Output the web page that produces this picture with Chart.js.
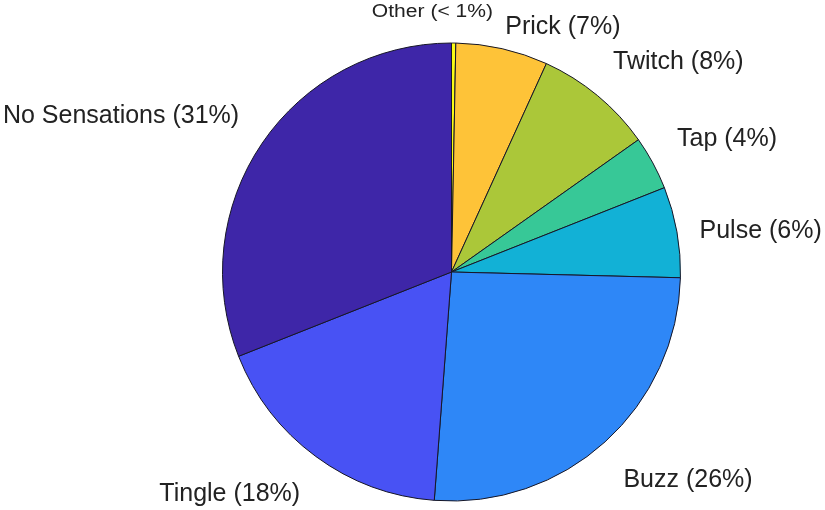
<!DOCTYPE html>
<html><head><meta charset="utf-8">
<script src="https://cdn.jsdelivr.net/npm/chart.js@4/dist/chart.umd.min.js"></script>
<style>html,body{margin:0;padding:0;background:#fff}canvas{display:block}</style>
</head><body>
<canvas id="c" width="825" height="510"></canvas>
<script>
// ---- data (clockwise from 12 o'clock) ----
const categories = ['Other', 'Prick', 'Twitch', 'Tap', 'Pulse', 'Buzz', 'Tingle', 'No Sensations'];
const percentLabels = ['(< 1%)', '(7%)', '(8%)', '(4%)', '(6%)', '(26%)', '(18%)', '(31%)'];
const shares = [0.3, 6.5, 8.4, 3.8, 6.4, 25.8, 17.8, 31.0];
const sliceColors = ['#f9fb15', '#fec338', '#abc739', '#37c897', '#12b1d6', '#2e87f7', '#4852f4', '#3e26a8'];

// ---- label layout (styling only) ----
const labelStyle = {
  radiusFactor: 1.1,
  color: '#222222',
  family: '"Liberation Sans", Arial, Helvetica, sans-serif',
  sizes: [18, 25, 25, 25, 25, 25, 25, 25],
  hscale: [1.17, 1, 1, 1, 1, 1, 1, 1],
  nudges: [[-82, 2], [-2, 14], [1, -5], [4, -6], [0, 6], [3, 11], [-2, 8], [-4, -6]]
};

const pieLabels = {
  id: 'pieLabels',
  afterDatasetsDraw(chart) {
    const ctx = chart.ctx;
    const meta = chart.getDatasetMeta(0);
    meta.data.forEach((arc, i) => {
      const p = arc.getProps(['x', 'y', 'startAngle', 'endAngle', 'outerRadius'], true);
      const mid = (p.startAngle + p.endAngle) / 2;
      const r = p.outerRadius * labelStyle.radiusFactor;
      const fs = labelStyle.sizes[i];
      const ax = p.x + r * Math.cos(mid);
      const ay = p.y + r * Math.sin(mid);
      const left = Math.cos(mid) >= 0;
      const midY = ay + fs * 0.56 * Math.sin(mid);
      const nd = labelStyle.nudges[i];
      const text = categories[i] + ' ' + percentLabels[i];
      ctx.save();
      ctx.font = fs + 'px ' + labelStyle.family;
      ctx.fillStyle = labelStyle.color;
      ctx.textBaseline = 'middle';
      ctx.textAlign = left ? 'left' : 'right';
      ctx.translate(ax + nd[0], midY + nd[1]);
      ctx.scale(labelStyle.hscale[i], 1);
      ctx.fillText(text, 0, 0);
      ctx.restore();
    });
  }
};

new Chart(document.getElementById('c'), {
  type: 'pie',
  data: {
    labels: categories,
    datasets: [{
      data: shares,
      backgroundColor: sliceColors,
      borderColor: '#161626',
      borderWidth: 1
    }]
  },
  options: {
    responsive: false,
    devicePixelRatio: 1,
    animation: false,
    events: [],
    radius: 229,
    layout: { padding: { left: 222, right: 144, top: 43, bottom: 9 } },
    plugins: { legend: { display: false }, tooltip: { enabled: false } }
  },
  plugins: [pieLabels]
});
</script>
</body></html>
